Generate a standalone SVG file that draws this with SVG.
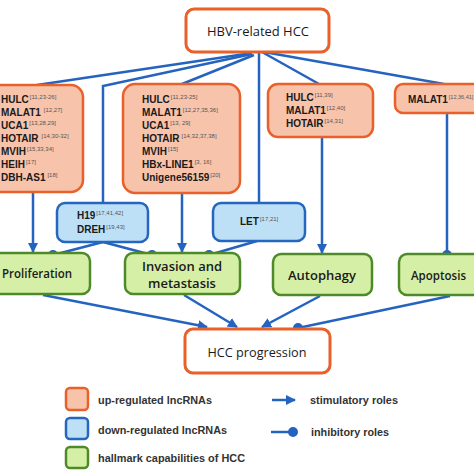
<svg xmlns="http://www.w3.org/2000/svg" width="474" height="474" viewBox="0 0 474 474">
<style>
.up{fill:#F8C3AB;stroke:#E8602A;stroke-width:2.5}
.down{fill:#BEE0F7;stroke:#2566BE;stroke-width:2.5}
.hall{fill:#D5F0A6;stroke:#4F8A2A;stroke-width:2.5}
.main{fill:#fff;stroke:#E8602A;stroke-width:3}
.c{stroke:#2463BF;stroke-width:2.5;fill:none}
.n{font-family:"Liberation Sans",Arial,sans-serif;font-weight:bold;font-size:10px;fill:#1a1a1a}
.r{font-size:6px;font-weight:normal;fill:#555}
.h{font-family:"Open Sans","Liberation Sans",sans-serif;font-weight:600;font-size:13px;fill:#1a1a1a}
.t{font-family:"Open Sans","Liberation Sans",sans-serif;font-size:13.5px;fill:#1a1a1a}
.l{font-family:"Liberation Sans",Arial,sans-serif;font-weight:bold;font-size:10.5px;fill:#333}
.dot{fill:#2463BF}
</style>
<defs>
<marker id="ar" viewBox="0 0 10 10" refX="9" refY="5" markerWidth="4" markerHeight="4" orient="auto" markerUnits="strokeWidth">
<path d="M0,0 L10,5 L0,10 Z" fill="#2463BF"/>
</marker>
</defs>

<g id="connectors">
<line class="c" x1="252" y1="53" x2="37" y2="85"/>
<polyline class="c" points="252,54 103,86 103,203"/>
<line class="c" x1="254" y1="55" x2="182" y2="84"/>
<line class="c" x1="259" y1="52" x2="259" y2="203"/>
<line class="c" x1="262" y1="52" x2="319" y2="84"/>
<line class="c" x1="264" y1="52" x2="444" y2="84"/>
<line class="c" x1="33" y1="192" x2="33" y2="252" marker-end="url(#ar)"/>
<line class="c" x1="182" y1="193" x2="182" y2="252" marker-end="url(#ar)"/>
<line class="c" x1="322" y1="137" x2="322" y2="253" marker-end="url(#ar)"/>
<line class="c" x1="447" y1="113" x2="447" y2="254"/>
<line class="c" x1="103" y1="242" x2="53" y2="255"/>
<line class="c" x1="103" y1="242" x2="152" y2="255"/>
<line class="c" x1="257" y1="241" x2="209" y2="255"/>
<line class="c" x1="43" y1="295" x2="207" y2="327" marker-end="url(#ar)"/>
<line class="c" x1="184" y1="295" x2="237" y2="327" marker-end="url(#ar)"/>
<line class="c" x1="320" y1="296" x2="262" y2="327" marker-end="url(#ar)"/>
<line class="c" x1="450" y1="296" x2="298" y2="328"/>
<circle class="dot" cx="53" cy="255" r="5"/>
<circle class="dot" cx="152" cy="255" r="5"/>
<circle class="dot" cx="209" cy="255" r="5"/>
<circle class="dot" cx="447" cy="255" r="5"/>
<circle class="dot" cx="298" cy="328" r="5"/>
</g>

<g id="hbv">
<rect class="main" x="186" y="9" width="143" height="43" rx="8"/>
<text class="t" x="258" y="36" text-anchor="middle" textLength="102" lengthAdjust="spacingAndGlyphs">HBV-related HCC</text>
</g>

<g id="up1">
<rect class="up" x="-12" y="85" width="95" height="107" rx="12"/>
<text class="n" x="1" y="103">HULC<tspan class="r" dx="1" dy="-4">[11,23-26]</tspan></text>
<text class="n" x="1" y="116">MALAT1<tspan class="r" dx="3" dy="-4">[12,27]</tspan></text>
<text class="n" x="1" y="129">UCA1<tspan class="r" dx="1" dy="-4">[13,28,29]</tspan></text>
<text class="n" x="1" y="142">HOTAIR<tspan class="r" dx="3" dy="-4">[14,30-32]</tspan></text>
<text class="n" x="1" y="155">MVIH<tspan class="r" dx="1" dy="-4">[15,33,34]</tspan></text>
<text class="n" x="1" y="168">HEIH<tspan class="r" dx="1" dy="-4">[17]</tspan></text>
<text class="n" x="1" y="181">DBH-AS1<tspan class="r" dx="2" dy="-4">[18]</tspan></text>
</g>

<g id="up2">
<rect class="up" x="123" y="84" width="117" height="109" rx="12"/>
<text class="n" x="142" y="103">HULC<tspan class="r" dx="1" dy="-4">[11,23-25]</tspan></text>
<text class="n" x="142" y="116">MALAT1<tspan class="r" dx="1" dy="-4">[12,27,35,36]</tspan></text>
<text class="n" x="142" y="129">UCA1<tspan class="r" dx="1" dy="-4">[13, 29]</tspan></text>
<text class="n" x="142" y="142">HOTAIR<tspan class="r" dx="2" dy="-4">[14,32,37,38]</tspan></text>
<text class="n" x="142" y="155">MVIH<tspan class="r" dx="1" dy="-4">[15]</tspan></text>
<text class="n" x="142" y="168">HBx-LINE1<tspan class="r" dx="1" dy="-4">[3, 16]</tspan></text>
<text class="n" x="142" y="181">Unigene56159<tspan class="r" dx="1" dy="-4">[20]</tspan></text>
</g>

<g id="up3">
<rect class="up" x="268" y="84" width="105" height="53" rx="10"/>
<text class="n" x="286" y="101">HULC<tspan class="r" dx="1" dy="-4">[11,39]</tspan></text>
<text class="n" x="286" y="114">MALAT1<tspan class="r" dx="1" dy="-4">[12,40]</tspan></text>
<text class="n" x="286" y="127">HOTAIR<tspan class="r" dx="1" dy="-4">[14,31]</tspan></text>
</g>

<g id="up4">
<rect class="up" x="395" y="84" width="95" height="29" rx="8"/>
<text class="n" x="408" y="103">MALAT1<tspan class="r" dx="1" dy="-4" style="font-size:5.5px">[12,36,41]</tspan></text>
</g>

<g id="down1">
<rect class="down" x="57" y="203" width="91" height="39" rx="8"/>
<text class="n" x="77" y="219">H19<tspan class="r" dx="1" dy="-4">[17,41,42]</tspan></text>
<text class="n" x="77" y="233">DREH<tspan class="r" dx="1" dy="-4">[19,43]</tspan></text>
</g>

<g id="down2">
<rect class="down" x="213" y="203" width="92" height="38" rx="8"/>
<text class="n" x="240" y="225">LET<tspan class="r" dx="1" dy="-4">[17,21]</tspan></text>
</g>

<g id="prolif">
<rect class="hall" x="-12" y="253" width="102" height="41" rx="8"/>
<text class="h" x="2" y="278" textLength="70" lengthAdjust="spacingAndGlyphs">Proliferation</text>
</g>

<g id="invasion">
<rect class="hall" x="125" y="253" width="115" height="41" rx="8"/>
<text class="h" x="182" y="271" text-anchor="middle">Invasion and</text>
<text class="h" x="182" y="288" text-anchor="middle">metastasis</text>
</g>

<g id="autophagy">
<rect class="hall" x="273" y="254" width="99" height="41" rx="8"/>
<text class="h" x="322" y="280" text-anchor="middle">Autophagy</text>
</g>

<g id="apoptosis">
<rect class="hall" x="399" y="254" width="95" height="41" rx="8"/>
<text class="h" x="411" y="280" textLength="55" lengthAdjust="spacingAndGlyphs">Apoptosis</text>
</g>

<g id="hccprog">
<rect class="main" x="185" y="329" width="145" height="44" rx="8"/>
<text class="t" x="257" y="357" text-anchor="middle" textLength="99" lengthAdjust="spacingAndGlyphs">HCC progression</text>
</g>

<g id="legend">
<rect class="up" x="66" y="388" width="22" height="22" rx="4"/>
<rect class="down" x="66" y="418" width="22" height="21" rx="4"/>
<rect class="hall" x="66" y="447" width="22" height="21" rx="4"/>
<text class="l" x="98" y="404" textLength="114" lengthAdjust="spacingAndGlyphs">up-regulated lncRNAs</text>
<text class="l" x="98" y="434" textLength="129" lengthAdjust="spacingAndGlyphs">down-regulated lncRNAs</text>
<text class="l" x="98" y="462" textLength="147" lengthAdjust="spacingAndGlyphs">hallmark capabilities of HCC</text>
<line class="c" x1="272" y1="400" x2="295" y2="400" marker-end="url(#ar)"/>
<line class="c" x1="271" y1="432" x2="290" y2="432"/>
<circle class="dot" cx="293" cy="432" r="5"/>
<text class="l" x="310" y="404" textLength="88" lengthAdjust="spacingAndGlyphs">stimulatory roles</text>
<text class="l" x="311" y="436" textLength="78" lengthAdjust="spacingAndGlyphs">inhibitory roles</text>
</g>
</svg>
